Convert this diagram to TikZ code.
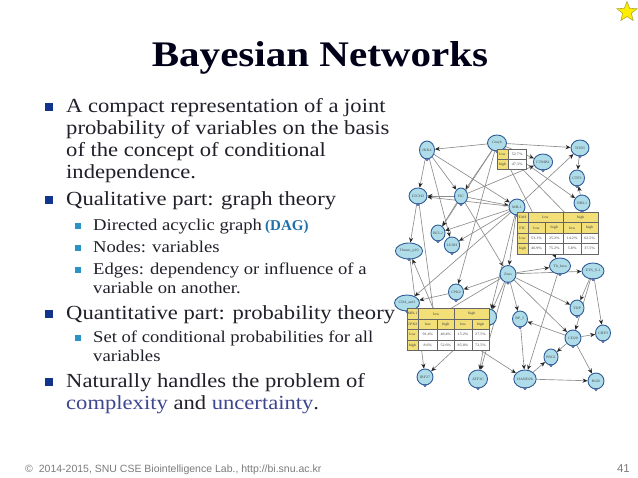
\documentclass[tikz,border=0pt]{standalone}
\usepackage{fontspec}
\setmainfont[FakeStretch=1.13]{Liberation Serif}
\newfontfamily\footfont{Liberation Sans}
\newfontfamily\titlefont[FakeStretch=1.14]{Liberation Serif}
\newfontfamily\dagfont[FakeStretch=1.0]{Liberation Serif}
\usetikzlibrary{shapes.geometric,arrows.meta,backgrounds}
\definecolor{bodyink}{HTML}{20202A}
\definecolor{navy}{HTML}{12348C}
\definecolor{skybul}{HTML}{2A93C4}
\definecolor{wordblue}{HTML}{3F4690}
\definecolor{dagblue}{HTML}{1E70A8}
\definecolor{nodefill}{HTML}{AEDCE8}
\definecolor{nodeline}{HTML}{2F5C96}
\definecolor{dotfill}{HTML}{7A78B8}
\definecolor{tabyellow}{HTML}{F2DF78}
\definecolor{edgeink}{HTML}{8C8C8C}
\definecolor{footink}{HTML}{7A7A7A}
\tikzset{
  lone/.style={anchor=base west,inner sep=0pt,text=bodyink,font=\fontsize{20}{20}\selectfont},
  ltwo/.style={anchor=base west,inner sep=0pt,text=bodyink,font=\fontsize{16.5}{18}\selectfont},
  bone/.style={rectangle,fill=navy,inner sep=0pt,minimum size=8pt},
  btwo/.style={rectangle,fill=skybul,inner sep=0pt,minimum size=6.5pt},
  bnnode/.style={ellipse,draw=nodeline,line width=0.9pt,fill=nodefill,inner sep=0pt,font=\fontsize{3.6}{4}\selectfont,text=black!70},
  bndot/.style={circle,draw=nodeline,fill=dotfill,line width=0.3pt,inner sep=0pt,minimum size=2.8pt},
  edge/.style={draw=edgeink,line width=0.65pt,-{Stealth[length=5pt,width=4.2pt,black!85]}},
  plainedge/.style={draw=edgeink,line width=0.65pt},
  cellbox/.style={rectangle,draw=black!60,line width=0.4pt,inner sep=0pt,font=\fontsize{3.6}{4}\selectfont,text=black!75},
  ycell/.style={cellbox,fill=tabyellow},
  wcell/.style={cellbox,fill=white},
}
\newcommand{\bn}[6]{%
  \node[bnnode,minimum width=#4pt,minimum height=#5pt] (#1) at (#2,#3) {#6};
  \node[bndot] (#1d) at (#1.south) {};}
\newcommand{\tc}[7]{% name style x0 x1 y0 y1 text
  \pgfmathsetmacro{\tcw}{#4-#3}\pgfmathsetmacro{\tch}{#6-#5}%
  \pgfmathsetmacro{\tcx}{(#3+#4)/2}\pgfmathsetmacro{\tcy}{(#5+#6)/2}%
  \node[#2,minimum width=\tcw pt,minimum height=\tch pt] (#1) at (\tcx,\tcy) {#7};}
\begin{document}
\begin{tikzpicture}[x=1pt,y=-1pt]
\useasboundingbox (0,0) rectangle (638,478);
% star
\node[star,star points=5,star point ratio=2.3,fill=yellow!95!orange,draw=olive!70,line width=0.6pt,inner sep=0pt,minimum size=21pt] (favstar) at (627,12) {};
% title
\node[anchor=base,inner sep=0pt,text=black!90!blue,font=\titlefont\bfseries\fontsize{36}{37}\selectfont] (title) at (320,67) {Bayesian Networks};
% bullets and text
\node[bone] (b1) at (49,107) {};
\node[lone] (t1) at (66,113) {A compact representation of a joint};
\node[lone] (t2) at (66,135) {probability of variables on the basis};
\node[lone] (t3) at (66,157) {of the concept of conditional};
\node[lone] (t4) at (66,179) {independence.};
\node[bone] (b2) at (49,200) {};
\node[lone] (t5) at (66,206) {Qualitative part: graph theory};
\node[btwo] (b3) at (78,226) {};
\node[ltwo] (t6) at (93,231) {Directed acyclic graph};
\node[anchor=base west,inner sep=0pt,text=dagblue,font=\dagfont\bfseries\fontsize{15}{16}\selectfont] (t6b) at (265,231) {(DAG)};
\node[btwo] (b4) at (78,248) {};
\node[ltwo] (t7) at (93,253) {Nodes: variables};
\node[btwo] (b5) at (78,270) {};
\node[ltwo] (t8) at (93,275) {Edges: dependency or influence of a};
\node[ltwo] (t9) at (93,294) {variable on another.};
\node[bone] (b6) at (49,314) {};
\node[lone] (t10) at (66,320) {Quantitative part: probability theory};
\node[btwo] (b7) at (78,338) {};
\node[ltwo] (t11) at (93,343) {Set of conditional probabilities for all};
\node[ltwo] (t12) at (93,362) {variables};
\node[bone] (b8) at (49,382) {};
\node[lone] (t13) at (66,388) {Naturally handles the problem of};
\node[lone] (t14) at (66,410) {\textcolor{wordblue}{complexity} and \textcolor{wordblue}{uncertainty}.};
% footer
\node[anchor=base west,inner sep=0pt,text=footink,font=\footfont\fontsize{10.5}{12}\selectfont] (foot) at (25,473) {©\hspace{3pt} 2014-2015, SNU CSE Biointelligence Lab., http://bi.snu.ac.kr};
\node[anchor=base east,inner sep=0pt,text=footink,font=\footfont\fontsize{11.5}{13}\selectfont] (pageno) at (630,473) {41};
% network nodes
\bn{ikk}{427}{150}{15}{18}{IKK4}
\bn{cmyb}{497}{143}{19}{16}{Cmyb}
\bn{tor}{580}{148}{18}{16}{TOR5}
\bn{ctmb}{543}{162}{17}{16}{CTMB1}
\bn{ctp}{577}{178}{15}{16}{CTP2}
\bn{nbl}{582}{203}{16}{16}{NBL1}
\bn{fic}{461}{196}{13}{16}{FIC}
\bn{ltch}{418}{196}{18}{16}{LTCH2}
\bn{mbo}{517}{207}{16}{16}{MB-1}
\bn{bcl}{438}{233}{14}{16}{BCL2}
\bn{lex}{452}{245}{15}{16}{LEXH}
\bn{thr}{409}{251}{26}{16}{Thrum\_p10}
\bn{zeu}{508}{274}{16}{17}{Zeus}
\bn{thb}{560}{266}{21}{16}{Th\_beta}
\bn{ets}{593}{271}{22}{16}{ETS\_S-1}
\bn{cpk}{456}{292}{15}{16}{CPK2}
\bn{cdf}{407}{303}{25}{16}{CD4\_ant3}
\bn{tdp}{577}{308}{14}{16}{TDP}
\bn{bps}{520}{319}{15}{16}{BP\_5}
\bn{hid}{489}{317}{15}{16}{}
\bn{cdt}{573}{338}{16}{16}{CD20}
\bn{crp}{603}{333}{15}{16}{CRP3}
\bn{prg}{551}{357}{14}{16}{PRG1}
\bn{irf}{425}{377}{16}{16}{IRF27}
\bn{atf}{478}{379}{19}{18}{ATF3C}
\bn{han}{525}{379}{20}{18}{HAND2b}
\bn{bgr}{596}{381}{16}{16}{BGR}
% free ends hidden behind the tables
\coordinate (hideA) at (436,330);
\coordinate (hideB) at (433,308);
\coordinate (hideC) at (440,315);
\coordinate (hideD) at (570,218);
% edges
\begin{scope}[on background layer]
\foreach \a/\b in {cmyb/ikk,cmyb/tor,cmyb/fic,cmyb/ctmb,cmyb/nbl,cmyb/bcl,cmyb/thb,cmyb/cpk,
  ikk/ltch,ikk/fic,ikk/mbo,ikk/lex,fic/ltch,fic/mbo,fic/ctmb,fic/bcl,fic/zeu,
  mbo/ltch,mbo/bcl,mbo/tor,mbo/zeu,mbo/cdf,mbo/hid,mbo/lex,nbl/ctp,tor/ctp,
  ltch/thr,thr/irf,zeu/cpk,zeu/thb,zeu/ets,zeu/tdp,zeu/bps,zeu/cdt,zeu/atf,zeu/hid,
  cpk/cdf,thb/han,ets/tdp,ets/cdt,ets/crp,cdt/bps,cdt/crp,cdt/prg,cdt/bgr,bps/han,han/prg,han/bgr,
  hid/atf,hid/irf,cdf/han,hideB/thr}{\draw[edge] (\a) -- (\b);}
\draw[plainedge] (ltch) -- (hideA);
\draw[plainedge] (zeu) -- (hideC);
\draw[plainedge] (cmyb) -- (hideD);
\end{scope}
% table 1
\tc{ta}{ycell}{496.7}{508.3}{149}{159}{low}
\tc{tb}{wcell}{508.3}{526}{149}{159}{52.7\%}
\tc{tc}{ycell}{496.7}{508.3}{159}{169.3}{high}
\tc{td}{wcell}{508.3}{526}{159}{169.3}{47.3\%}
% table 2
\tc{ua}{ycell}{517.3}{527.7}{212.3}{222.5}{FAH}
\tc{ub}{ycell}{527.7}{563.3}{212.3}{222.5}{low}
\tc{uc}{ycell}{563.3}{598.3}{212.3}{222.5}{high}
\tc{ud}{ycell}{517.3}{527.7}{222.5}{233.3}{FIC}
\tc{ue}{ycell}{527.7}{545.3}{222.5}{233.3}{low}
\tc{uf}{ycell}{545.3}{563.3}{222.5}{233.3}{high}
\tc{ug}{ycell}{563.3}{581}{222.5}{233.3}{low}
\tc{uh}{ycell}{581}{598.3}{222.5}{233.3}{high}
\tc{ui}{ycell}{517.3}{527.7}{233.3}{243.3}{low}
\tc{uj}{wcell}{527.7}{545.3}{233.3}{243.3}{53.1\%}
\tc{uk}{wcell}{545.3}{563.3}{233.3}{243.3}{25.2\%}
\tc{ul}{wcell}{563.3}{581}{233.3}{243.3}{14.2\%}
\tc{um}{wcell}{581}{598.3}{233.3}{243.3}{62.5\%}
\tc{un}{ycell}{517.3}{527.7}{243.3}{254.3}{high}
\tc{uo}{wcell}{527.7}{545.3}{243.3}{254.3}{46.9\%}
\tc{up}{wcell}{545.3}{563.3}{243.3}{254.3}{75.2\%}
\tc{uq}{wcell}{563.3}{581}{243.3}{254.3}{5.8\%}
\tc{ur}{wcell}{581}{598.3}{243.3}{254.3}{37.5\%}
% table 3
\tc{va}{ycell}{406.7}{418.3}{308.3}{319.3}{MB-1}
\tc{vb}{ycell}{418.3}{454.3}{308.3}{319.3}{low}
\tc{vc}{ycell}{454.3}{489.3}{308.3}{319.3}{high}
\tc{vd}{ycell}{406.7}{418.3}{319.3}{329.3}{CPK2}
\tc{ve}{ycell}{418.3}{437.3}{319.3}{329.3}{low}
\tc{vf}{ycell}{437.3}{454.3}{319.3}{329.3}{high}
\tc{vg}{ycell}{454.3}{471.7}{319.3}{329.3}{low}
\tc{vh}{ycell}{471.7}{489.3}{319.3}{329.3}{high}
\tc{vi}{ycell}{406.7}{418.3}{329.3}{340}{low}
\tc{vj}{wcell}{418.3}{437.3}{329.3}{340}{91.4\%}
\tc{vk}{wcell}{437.3}{454.3}{329.3}{340}{48.4\%}
\tc{vl}{wcell}{454.3}{471.7}{329.3}{340}{15.2\%}
\tc{vm}{wcell}{471.7}{489.3}{329.3}{340}{27.5\%}
\tc{vn}{ycell}{406.7}{418.3}{340}{350.7}{high}
\tc{vo}{wcell}{418.3}{437.3}{340}{350.7}{8.6\%}
\tc{vp}{wcell}{437.3}{454.3}{340}{350.7}{52.6\%}
\tc{vq}{wcell}{454.3}{471.7}{340}{350.7}{85.8\%}
\tc{vr}{wcell}{471.7}{489.3}{340}{350.7}{72.5\%}
\end{tikzpicture}
\end{document}
